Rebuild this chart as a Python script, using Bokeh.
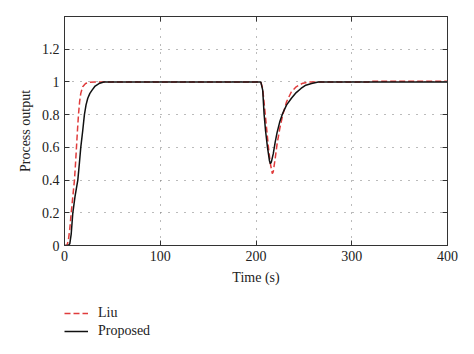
from bokeh.plotting import figure
from bokeh.models import Legend, LegendItem, LinearAxis, FixedTicker, Range1d
from bokeh.layouts import column
from bokeh.embed import file_html
from bokeh.resources import INLINE

# Liu (red dashed)
t_liu = [0, 2.5, 4, 5.5, 7, 8.7, 10.4, 11.5, 12.5, 13.5, 14.6, 15.8, 17, 19, 22, 26, 32,
         100, 200, 205, 207, 209, 211, 213, 215, 217, 218, 220, 222, 225, 228, 232, 237,
         242, 248, 255, 320, 321, 400]
y_liu = [0, 0, 0.03, 0.1, 0.2, 0.3, 0.4, 0.5, 0.6, 0.7, 0.8, 0.88, 0.93, 0.97, 0.99, 0.998, 1.0,
         1.0, 1.0, 1.0, 0.96, 0.84, 0.72, 0.6, 0.5, 0.44, 0.45, 0.53, 0.62, 0.72, 0.8, 0.88, 0.94,
         0.97, 0.99, 1.0, 1.0, 1.004, 1.004]

# Proposed (black solid)
t_prop = [0, 4, 5.5, 7, 8.7, 11, 13.9, 15.5, 17, 19, 20.8, 22.5, 24.3, 26.5, 28.8, 32, 36, 41,
          100, 200, 205, 207, 208.5, 210, 212, 214, 215, 216, 218, 220, 222, 225, 228, 232,
          237, 242, 247, 252, 258, 265, 300, 400]
y_prop = [0, 0, 0.01, 0.07, 0.2, 0.3, 0.4, 0.5, 0.6, 0.7, 0.8, 0.86, 0.9, 0.93, 0.95, 0.975, 0.99, 1.0,
          1.0, 1.0, 1.0, 0.95, 0.8, 0.7, 0.6, 0.52, 0.5, 0.51, 0.56, 0.63, 0.69, 0.76, 0.81, 0.86,
          0.9, 0.935, 0.96, 0.98, 0.99, 1.0, 1.0, 1.0]

series_names = ["Liu", "Proposed"]
x_ticks = [0, 100, 200, 300, 400]
y_ticks = [0, 0.2, 0.4, 0.6, 0.8, 1.0, 1.2]
y_labels = {0: "0", 0.2: "0.2", 0.4: "0.4", 0.6: "0.6", 0.8: "0.8", 1.0: "1", 1.2: "1.2"}

FONT = "Liberation Serif"
RED = "#e03c3c"
BLACK = "#111111"

p = figure(width=474, height=290, output_backend="svg", toolbar_location=None,
           x_range=Range1d(0, 400), y_range=Range1d(0, 1.4),
           min_border_left=64, min_border_right=27, min_border_top=16, min_border_bottom=45)
p.background_fill_color = "white"
p.border_fill_color = "white"
p.outline_line_color = "#333333"
p.outline_line_width = 1

p.line(t_liu, y_liu, line_color=RED, line_width=1.5, line_dash="6 3")
p.line(t_prop, y_prop, line_color=BLACK, line_width=1.5)

for ax in (p.xaxis, p.yaxis):
    ax.major_label_text_font = FONT
    ax.major_label_text_font_size = "14px"
    ax.major_label_text_color = "#222222"
    ax.axis_label_text_font = FONT
    ax.axis_label_text_font_size = "14px"
    ax.axis_label_text_font_style = "normal"
    ax.axis_label_text_color = "#222222"
    ax.major_tick_in = 5
    ax.major_tick_out = 0
    ax.minor_tick_line_color = None
    ax.axis_line_color = "#333333"
    ax.major_tick_line_color = "#333333"

p.xaxis.ticker = FixedTicker(ticks=x_ticks)
p.yaxis.ticker = FixedTicker(ticks=y_ticks)
p.yaxis.major_label_overrides = y_labels
p.xaxis.axis_label = "Time (s)"
p.yaxis.axis_label = "Process output"
p.xaxis.major_label_standoff = 5
p.xaxis.axis_label_standoff = 6
p.yaxis.major_label_standoff = 5
p.yaxis.axis_label_standoff = 6

ax_top = LinearAxis(ticker=FixedTicker(ticks=x_ticks), major_label_text_font_size="0px",
                    major_tick_in=5, major_tick_out=0, minor_tick_line_color=None,
                    axis_line_color="#333333", major_tick_line_color="#333333")
ax_right = LinearAxis(ticker=FixedTicker(ticks=y_ticks), major_label_text_font_size="0px",
                      major_tick_in=5, major_tick_out=0, minor_tick_line_color=None,
                      axis_line_color="#333333", major_tick_line_color="#333333")
p.add_layout(ax_top, "above")
p.add_layout(ax_right, "right")

p.xgrid.ticker = FixedTicker(ticks=[100, 200, 300])
p.ygrid.ticker = FixedTicker(ticks=[0.2, 0.4, 0.6, 0.8, 1.0, 1.2])
for g in (p.xgrid, p.ygrid):
    g.grid_line_color = "#777777"
    g.grid_line_dash = "1 7"
    g.grid_line_width = 1

# Legend panel below the plot
q = figure(width=474, height=64, output_backend="svg", toolbar_location=None,
           x_range=Range1d(0, 1), y_range=Range1d(0, 1),
           x_axis_location=None, y_axis_location=None,
           min_border_left=0, min_border_right=0, min_border_top=0, min_border_bottom=0)
q.outline_line_color = None
q.xgrid.visible = False
q.ygrid.visible = False
l1 = q.line([-2, -1], [-2, -1], line_color=RED, line_width=1.5, line_dash="6 3")
l2 = q.line([-2, -1], [-2, -1], line_color=BLACK, line_width=1.5)

legend = Legend(items=[LegendItem(label=series_names[0], renderers=[l1]),
                       LegendItem(label=series_names[1], renderers=[l2])],
                location=(0, 15), orientation="vertical",
                label_text_font=FONT, label_text_font_size="14px", label_text_color="#222222",
                border_line_alpha=0, background_fill_alpha=0,
                glyph_width=24, glyph_height=16, label_height=16, spacing=2,
                padding=0, margin=0, label_standoff=10)
q.add_layout(legend)

open("out.html", "w").write(file_html(column(p, q, spacing=0), INLINE))
